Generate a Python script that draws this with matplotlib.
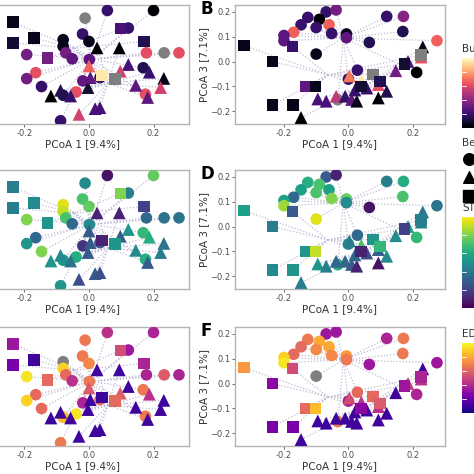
import numpy as np
import matplotlib
matplotlib.use("Agg")
import matplotlib.pyplot as plt

# Panel A/C/E samples: PCoA1, PCoA2, shape, colour vars
a_x = [-0.235,-0.235,-0.17,-0.128,0.098,0.171,0.081,0.04,
       0.057,0.2,-0.012,-0.02,-0.08,-0.08,0.0,-0.193,-0.072,-0.052,0.122,0.178,0.233,0.279,-0.165,-0.193,0.001,-0.019,-0.147,0.034,0.168,-0.04,-0.08,-0.088,0.175,
       0.025,0.094,0.122,0.0,0.097,0.187,0.145,0.232,0.222,-0.003,-0.088,-0.057,-0.118,0.019,0.034,-0.031,0.182,0.004]
a_y = [0.159,0.075,0.095,0.013,0.133,0.081,-0.071,-0.056,
       0.206,0.206,0.175,0.111,0.088,0.061,0.081,0.028,0.035,0.011,0.135,0.035,0.035,0.035,-0.045,-0.069,0.008,-0.078,-0.101,-0.065,-0.025,-0.123,-0.136,-0.239,-0.132,
       0.055,0.055,-0.012,-0.018,-0.039,-0.043,-0.096,-0.068,-0.105,-0.105,-0.116,-0.139,-0.139,-0.19,-0.186,-0.213,-0.145,-0.065]
a_shape = ['s']*8 + ['o']*25 + ['^']*18
a_bulk = [.05,.1,.05,.35,.25,.15,np.nan,1.0,
          .2,0,np.nan,.2,.05,.05,.05,.35,.35,.3,.2,.65,np.nan,.65,.65,.35,.3,.3,.2,.2,.15,.65,.15,.2,.65,
          0,0,.25,.7,.6,.2,.3,.05,.6,.1,.15,.2,0,.25,.25,.6,.3,.3]
a_st = [.45,.45,.5,.55,.85,.2,.55,.1,
        .05,.8,.5,.75,1.0,.95,.8,.85,.75,.35,.45,.35,.4,.4,.35,.55,.5,.15,.85,.3,.7,.65,.55,.55,.65,
        .1,.1,.55,.3,.3,.65,.5,.4,.45,.3,.5,.4,.55,.3,.25,.25,.3,.3]
a_ed = [.35,.25,.1,.65,.55,.4,.65,.1,
        .45,.4,.7,.7,np.nan,.95,.75,1.0,.65,.45,.35,.4,.6,.4,.65,.95,.7,.4,.65,.65,.7,1.0,.9,.7,.7,
        .1,.1,.1,.6,.6,.45,.1,.1,.1,.1,.1,.1,.1,.1,.1,.1,.1,.1]

# Panel B/D/F samples: PCoA1, PCoA3
b_x = [0.119,0.171,0.169,0.275,0.065,-0.126,-0.069,-0.038,-0.09,-0.147,-0.17,-0.2,-0.2,-0.1,-0.06,-0.052,-0.006,-0.006,-0.1,0.028,0.0,0.212,-0.033,
       -0.324,-0.236,-0.174,-0.131,-0.102,-0.236,-0.172,0.077,0.098,0.04,0.174,0.226,
       0.231,0.226,0.185,0.147,0.003,0.04,0.093,0.119,0.093,-0.095,-0.069,-0.038,-0.01,0.01,0.026,0.02,0.057,-0.147]
b_y = [0.182,0.182,0.121,0.084,0.077,0.178,0.2,0.208,0.17,0.148,0.118,0.105,0.084,0.137,0.148,0.113,0.111,0.096,0.03,-0.035,-0.071,-0.044,-0.154,
       0.064,0.0,0.06,-0.101,-0.101,-0.176,-0.176,-0.052,-0.08,-0.1,-0.01,0.026,
       0.059,0.018,0.0,-0.037,-0.058,-0.075,-0.093,-0.12,-0.147,-0.151,-0.16,-0.14,-0.14,-0.153,-0.16,-0.115,-0.107,-0.226]
b_shape = ['o']*23 + ['s']*12 + ['^']*18
b_bulk = [.2,.4,.15,.7,.15,.2,.2,.35,0,.2,.7,.3,.3,.2,.7,.2,.05,.3,.05,.2,.2,0,np.nan,
          .05,.05,.2,.3,.05,.05,.05,np.nan,.15,.1,.1,np.nan,
          .05,.65,.3,.35,.75,1.0,.65,.15,0,.25,.25,.55,.2,.3,.05,.2,.2,0]
b_st = [.45,.65,.75,.4,.05,.65,.3,.1,.75,.6,.35,.6,.9,.75,.6,.85,.8,.5,1.0,.35,.5,.7,.65,
        .6,.45,.3,.55,.95,.5,.55,.55,.7,.1,.2,.45,
        .4,.45,.6,.5,.45,.75,.3,.5,.05,.55,.45,.35,.35,.3,.1,.35,.25,.45]
b_ed = [.4,.7,.7,.35,.35,.7,.35,.35,.85,.65,.65,.95,1.0,.75,.85,.75,.8,.7,np.nan,.65,.4,.4,.7,
        .8,.3,.55,.65,.9,.25,.25,.65,.6,.3,.35,.4,
        .1,.45,.5,.1,.55,.45,.45,.1,.1,.1,.1,.1,.1,.1,.1,.1,.1,.1]

W = 474.0
fig = plt.figure(figsize=(4.74, 4.74), dpi=100)

def ax_px(l, t, w, h):
    return fig.add_axes([l / W, 1 - (t + h) / W, w / W, h / W])

rows = [5, 170, 327]
H = 119
cmaps = ['magma', 'viridis', 'plasma']
avals = [a_bulk, a_st, a_ed]
bvals = [b_bulk, b_st, b_ed]
letters = ['B', 'D', 'F']
grey = '#7f7f7f'

def panel(ax, xs, ys, shapes, vals, cmap, xlim, ylabel=None, showy=True):
    xs = np.array(xs); ys = np.array(ys); vals = np.array(vals, float)
    shapes = np.array(shapes)
    cm = plt.get_cmap(cmap)
    for m in ['o', '^', 's']:
        idx = shapes == m
        cx, cy = xs[idx].mean(), ys[idx].mean()
        for x, y in zip(xs[idx], ys[idx]):
            ax.plot([cx, x], [cy, y], ls=(0, (1, 1.5)), color='#c0bcd6', lw=0.9, zorder=1)
    for m in ['o', '^', 's']:
        idx = shapes == m
        cols = [grey if np.isnan(v) else cm(v * 0.95) for v in vals[idx]]
        ax.scatter(xs[idx], ys[idx], marker=m, s=70 if m != '^' else 85, c=cols,
                   edgecolors='none', zorder=3)
    ax.set_xlim(*xlim); ax.set_ylim(-0.252, 0.228)
    ax.set_xticks([-0.2, 0.0, 0.2]); ax.set_xticklabels(['-0.2', '0.0', '0.2'])
    ax.set_yticks([-0.2, -0.1, 0.0, 0.1, 0.2])
    ax.tick_params(labelsize=6, colors='#4d4d4d', length=2, width=0.6, pad=1.5)
    if not showy:
        ax.tick_params(axis='y', labelleft=False, left=False)
    for s in ax.spines.values():
        s.set_color('#b3b3b3'); s.set_linewidth(1)
    ax.set_xlabel('PCoA 1 [9.4%]', fontsize=7.5, color='#333333', labelpad=1)
    if ylabel:
        ax.set_ylabel(ylabel, fontsize=7.5, color='#333333', labelpad=1)

for r, top in enumerate(rows):
    axa = ax_px(-23, top, 212, H)
    panel(axa, a_x, a_y, a_shape, avals[r], cmaps[r], (-0.347, 0.31), showy=False)
    axb = ax_px(235, top, 210, H)
    panel(axb, b_x, b_y, b_shape, bvals[r], cmaps[r], (-0.352, 0.30), ylabel='PCoA 3 [7.1%]')
    fig.text(200 / W, 1 - (top + 4) / W, letters[r], fontsize=12, fontweight='bold', va='center')

# legends on the right (cut off by the figure edge)
def cbar(top, h, cmap, title):
    cax = ax_px(462, top, 20, h)
    grad = np.linspace(0, 1, 100).reshape(-1, 1)
    cax.imshow(grad, aspect='auto', cmap=cmap, origin='lower', extent=[0, 1, 0, 1])
    for t in [0.2, 0.4, 0.6, 0.8]:
        cax.plot([0, 0.2], [t, t], color='white', lw=0.6)
    cax.set_xlim(0, 1); cax.set_ylim(0, 1); cax.axis('off')
    fig.text(462 / W, 1 - (top - 9) / W, title, fontsize=7.5, color='#333333', va='center')

cbar(58, 70, 'magma', 'Bulk')
cbar(217, 91, 'viridis', 'ST')
cbar(343, 70, 'plasma', 'ED')
fig.text(462 / W, 1 - 143 / W, 'Bed', fontsize=7.5, color='#333333', va='center')
lax = ax_px(460, 150, 20, 55)
lax.set_xlim(0, 1); lax.set_ylim(0, 3); lax.axis('off')
for i, m in enumerate(['o', '^', 's']):
    lax.scatter([0.45], [2.5 - i], marker=m, s=70, c='black', clip_on=False)

fig.savefig('out.png', dpi=100)
